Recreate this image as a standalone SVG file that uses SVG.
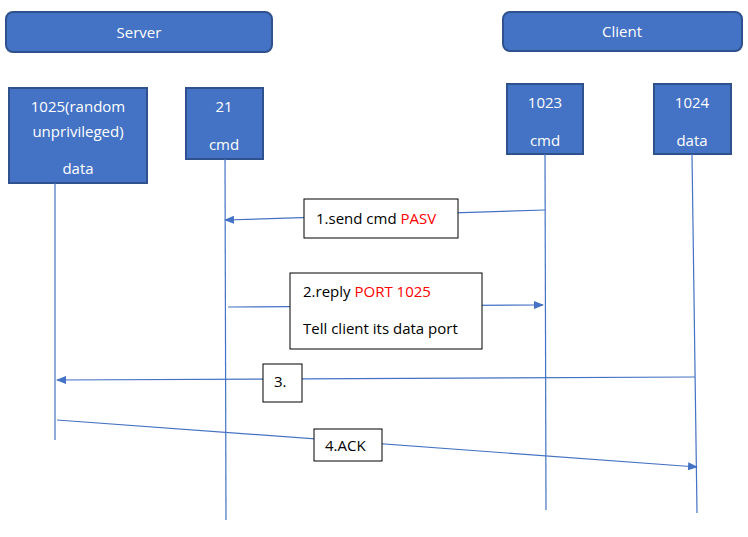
<svg xmlns="http://www.w3.org/2000/svg" width="748" height="537" viewBox="0 0 748 537">
<style>
.hdr{fill:#4472C4;stroke:#2F528F;stroke-width:2}
.node{fill:#4472C4;stroke:#2F528F;stroke-width:2}
.wt{fill:#fff;font-family:"Open Sans","Liberation Sans",sans-serif;font-size:15px;text-anchor:middle}
.ln{stroke:#4472C4;stroke-width:1.2;fill:none}
.lbl{fill:#fff;stroke:#000;stroke-width:1}
.bt{fill:#000;font-family:"Open Sans","Liberation Sans",sans-serif;font-size:15px}
.red{fill:#FF0000}
</style>
<defs><marker id="ah" markerWidth="10" markerHeight="8" refX="9" refY="4" orient="auto" markerUnits="userSpaceOnUse"><path d="M0,0 L10,4 L0,8 z" fill="#4472C4"/></marker></defs>
<rect width="748" height="537" fill="#fff"/>
<g id="server"><rect class="hdr" x="6" y="12" width="266" height="40" rx="7"/><text class="wt" x="139" y="38">Server</text></g>
<g id="client"><rect class="hdr" x="503" y="12" width="239" height="39" rx="7"/><text class="wt" x="622" y="37">Client</text></g>
<g id="n1025"><rect class="node" x="9" y="88" width="138" height="95"/><text class="wt" x="78" y="112">1025(random</text><text class="wt" x="78" y="137">unprivileged)</text><text class="wt" x="78" y="174">data</text></g>
<g id="n21"><rect class="node" x="186" y="88" width="77" height="71"/><text class="wt" x="224" y="112">21</text><text class="wt" x="224" y="150">cmd</text></g>
<g id="n1023"><rect class="node" x="507" y="84" width="76" height="70"/><text class="wt" x="545" y="108">1023</text><text class="wt" x="545" y="146">cmd</text></g>
<g id="n1024"><rect class="node" x="654" y="84" width="77" height="70"/><text class="wt" x="692" y="108">1024</text><text class="wt" x="692" y="146">data</text></g>
<g id="connectors">
<line class="ln" x1="55" y1="183" x2="55" y2="440"/>
<line class="ln" x1="225" y1="159" x2="226" y2="520"/>
<line class="ln" x1="545" y1="154" x2="546" y2="510"/>
<line class="ln" x1="692" y1="154" x2="697" y2="513"/>
<line class="ln" x1="545" y1="210" x2="225" y2="220" marker-end="url(#ah)"/>
<line class="ln" x1="228" y1="307" x2="543" y2="305" marker-end="url(#ah)"/>
<line class="ln" x1="695" y1="377" x2="57" y2="380" marker-end="url(#ah)"/>
<line class="ln" x1="57" y1="420" x2="697" y2="467" marker-end="url(#ah)"/>
</g>
<g id="label1"><rect class="lbl" x="304" y="199" width="154" height="39"/><text class="bt" x="316" y="224">1.send cmd <tspan class="red">PASV</tspan></text></g>
<g id="label2"><rect class="lbl" x="290" y="273" width="192" height="76"/><text class="bt" x="303" y="297">2.reply <tspan class="red">PORT 1025</tspan></text><text class="bt" x="303" y="334">Tell client its data port</text></g>
<g id="label3"><rect class="lbl" x="263" y="364" width="39" height="38"/><text class="bt" x="274" y="387">3.</text></g>
<g id="label4"><rect class="lbl" x="314" y="429" width="68" height="32"/><text class="bt" x="325" y="451">4.ACK</text></g>
</svg>
